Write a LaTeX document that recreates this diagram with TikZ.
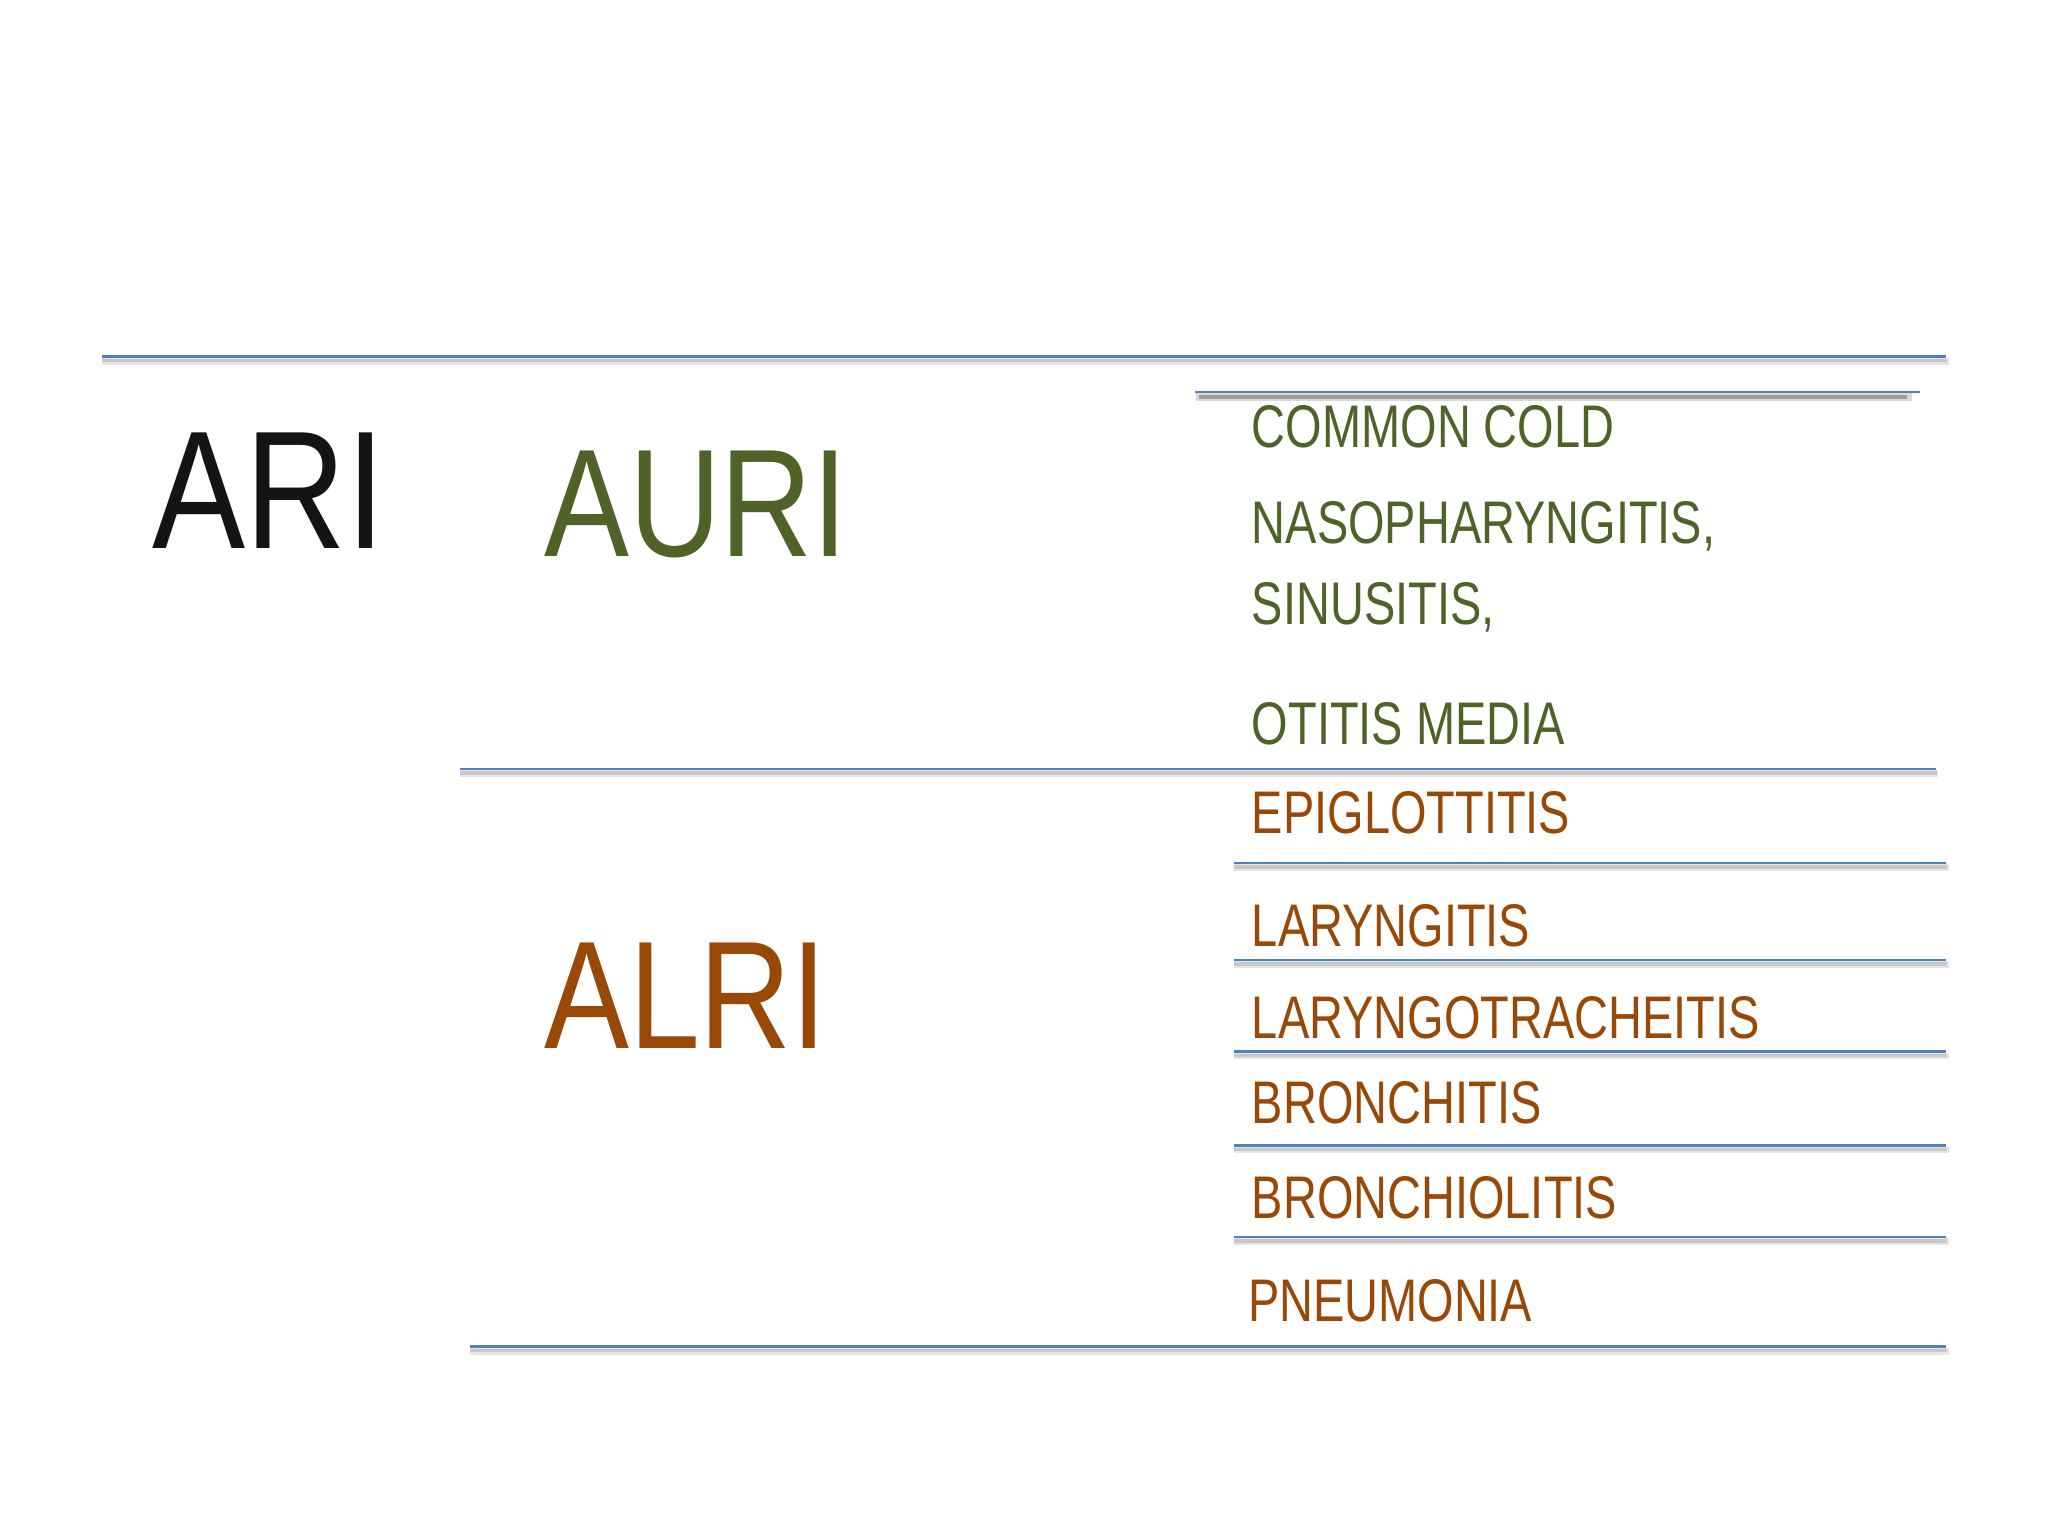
\documentclass[tikz,border=0pt]{standalone}
\usepackage{fontspec}
\setmainfont{Liberation Sans}
\definecolor{aurigreen}{HTML}{4F6228}
\definecolor{alribrown}{HTML}{984807}
\definecolor{rulebl}{HTML}{4F81BD}
\tikzset{
  item/.style={anchor=base west, inner sep=0pt, xscale=0.78, font=\fontsize{13.1}{15}\selectfont},
  greenitem/.style={item, text=aurigreen},
  brownitem/.style={item, text=alribrown},
  big/.style={anchor=base west, inner sep=0pt, xscale=0.83},
  shadowsoft/.style={draw=black!10, line width=1.5pt},
  shadowline/.style={draw=black!22, line width=0.8pt},
  blueline/.style={draw=rulebl, line width=0.5pt}
}
\newcommand{\rulerow}[3]{%
  \draw[shadowsoft] (#1,-#3-3.5) -- (#2+2,-#3-3.5);
  \draw[shadowline] (#1,-#3-3) -- (#2+1,-#3-3);
  \draw[blueline] (#1,-#3) -- (#2,-#3);}
\begin{document}
\begin{tikzpicture}[x=0.01cm,y=0.01cm]
\useasboundingbox (0,0) rectangle (1568,-1176);
\fill[white] (0,0) rectangle (1568,-1176);
% rules
\rulerow{78}{1490}{273}
\draw[draw=black!15, line width=1.8pt] (916,-304) -- (1464,-304);
\draw[draw=black!38, line width=1.0pt] (918,-304) -- (1460,-304);
\draw[blueline] (915,-300) -- (1470,-300);
\rulerow{352}{1482}{589}
\rulerow{945}{1490}{661}
\rulerow{945}{1490}{735}
\rulerow{945}{1490}{805}
\rulerow{945}{1490}{877}
\rulerow{945}{1490}{947}
\rulerow{360}{1490}{1031}
% big labels
\node[big, font=\fontsize{36.6}{40}\selectfont, text=black!92] (ari) at (116,-420) {ARI};
\node[big, font=\fontsize{33.4}{38}\selectfont, text=aurigreen] (auri) at (416,-426) {AURI};
\node[big, font=\fontsize{33.4}{38}\selectfont, text=alribrown] (alri) at (416,-803) {ALRI};
% AURI items
\node[greenitem] (cold) at (958,-343) {COMMON COLD};
\node[greenitem] (naso) at (958,-416) {NASOPHARYNGITIS,};
\node[greenitem] (sinus) at (958,-478) {SINUSITIS,};
\node[greenitem] (otitis) at (958,-570) {OTITIS MEDIA};
% ALRI items
\node[brownitem] (epi) at (958,-638) {EPIGLOTTITIS};
\node[brownitem] (lar) at (958,-725) {LARYNGITIS};
\node[brownitem] (lartr) at (958,-795) {LARYNGOTRACHEITIS};
\node[brownitem] (bron) at (958,-860) {BRONCHITIS};
\node[brownitem] (bronch) at (958,-933) {BRONCHIOLITIS};
\node[brownitem] (pneu) at (955,-1012) {PNEUMONIA};
\end{tikzpicture}
\end{document}
